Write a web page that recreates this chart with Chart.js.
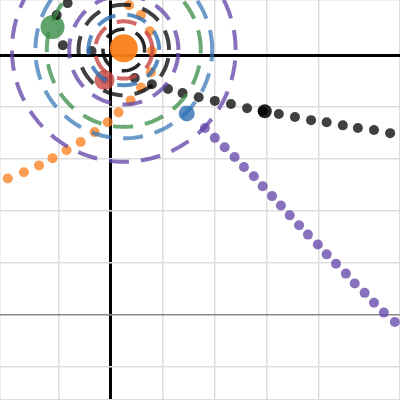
<!DOCTYPE html>
<html><head>
<script src="https://cdn.jsdelivr.net/npm/chart.js@4"></script>
<style>html,body{margin:0;background:#fff}#c{width:400px;height:400px}</style>
</head><body>
<div id="c"><canvas id="chart"></canvas></div>
<script>
// axis window (grid units)
const X_RANGE = [-2.13, 5.56];
const Y_RANGE = [-6.63, 1.06];

// dashed circles: [cx, cy, r, colour, width]
const circles = [
  [0.25, 0.1, 2.15, "rgba(96,66,166,0.75)", 4],
  [0.25, 0.1, 1.70, "rgba(45,112,179,0.7)", 4],
  [0.25, 0.1, 1.48, "rgba(56,140,70,0.75)", 4],
  [0.25, 0.1, 1.05, "rgba(96,66,166,0.75)", 4],
  [0.25, 0.1, 0.87, "rgba(0,0,0,0.75)", 4],
  [0.25, 0.1, 0.68, "rgba(45,112,179,0.8)", 4],
  [0.25, 0.1, 0.55, "rgba(199,68,64,0.8)", 4],
  [0.25, 0.1, 0.40, "rgba(0,0,0,0.85)", 3.5]
];

// dotted trails
const blackX = [-0.83, -1.04, -0.92, -0.37, 0.46, 0.79, 1.10, 1.38, 1.69, 2.0, 2.31, 2.62, 2.92, 3.23, 3.54, 3.85, 4.15, 4.46, 4.75, 5.06, 5.37];
const blackY = [1.00, 0.77, 0.19, 0.08, -0.44, -0.56, -0.65, -0.73, -0.81, -0.88, -0.94, -1.02, -1.08, -1.13, -1.19, -1.25, -1.29, -1.35, -1.40, -1.44, -1.50];
const orangeX = [-1.98, -1.67, -1.38, -1.12, -0.85, -0.58, -0.31, -0.06, 0.15, 0.38, 0.58, 0.77, 0.79, 0.75, 0.58, 0.35];
const orangeY = [-2.37, -2.25, -2.12, -1.98, -1.83, -1.67, -1.48, -1.29, -1.10, -0.87, -0.62, -0.33, 0.08, 0.46, 0.77, 0.96];
const purpleX = [1.81, 2.0, 2.19, 2.38, 2.56, 2.75, 2.92, 3.10, 3.27, 3.44, 3.62, 3.79, 3.98, 4.15, 4.33, 4.52, 4.69, 4.88, 5.06, 5.25, 5.46];
const purpleY = [-1.40, -1.59, -1.77, -1.96, -2.15, -2.33, -2.52, -2.71, -2.89, -3.08, -3.27, -3.45, -3.64, -3.83, -4.01, -4.20, -4.39, -4.57, -4.76, -4.95, -5.13];

// big markers: [x, y, radius px, colour]
const markers = [
  [0.25, 0.13, 14, "rgba(250,126,25,0.95)"],
  [-1.12, 0.54, 12, "rgba(56,140,70,0.8)"],
  [-0.12, -0.48, 10, "rgba(199,68,64,0.8)"],
  [-0.12, -0.48, 4, "rgba(45,112,179,0.9)"],
  [1.46, -1.12, 8, "rgba(45,112,179,0.8)"],
  [2.96, -1.08, 7, "rgba(0,0,0,0.85)"]
];

const pts = (xs, ys) => xs.map((x, i) => ({ x, y: ys[i] }));
const datasets = [];
circles.forEach(([cx, cy, r, col, w]) => {
  const data = [];
  for (let a = 0; a <= 360; a += 4) {
    const t = a * Math.PI / 180;
    data.push({ x: cx + r * Math.cos(t), y: cy + r * Math.sin(t) });
  }
  datasets.push({ type: "line", data, borderColor: col, borderWidth: w,
    borderDash: [20, 12], pointRadius: 0, fill: false, tension: 0 });
});
datasets.push({ data: pts(blackX, blackY), backgroundColor: "rgba(0,0,0,0.75)", pointRadius: 5, borderWidth: 0 });
datasets.push({ data: pts(orangeX, orangeY), backgroundColor: "rgba(250,126,25,0.75)", pointRadius: 5, borderWidth: 0 });
datasets.push({ data: pts(purpleX, purpleY), backgroundColor: "rgba(96,66,166,0.75)", pointRadius: 5, borderWidth: 0 });
markers.forEach(([x, y, r, col]) => {
  datasets.push({ data: [{ x, y }], backgroundColor: col, pointRadius: r, borderWidth: 0 });
});

const gridColor = ctx => {
  const v = ctx.tick.value;
  if (Math.abs(v) < 1e-6) return "#000";
  if (Math.abs(Math.abs(v) - 5) < 1e-6) return "#888";
  return "#ddd";
};
const gridWidth = ctx => Math.abs(ctx.tick.value) < 1e-6 ? 3 : 1.5;

new Chart(document.getElementById("chart"), {
  type: "scatter",
  data: { datasets },
  options: {
    responsive: true, maintainAspectRatio: false, animation: false,
    layout: { padding: 0, autoPadding: false },
    plugins: { legend: { display: false }, tooltip: { enabled: false } },
    scales: {
      x: { min: X_RANGE[0], max: X_RANGE[1], border: { display: false },
        ticks: { display: false, stepSize: 1, padding: 0 },
        grid: { color: gridColor, lineWidth: gridWidth, drawTicks: false } },
      y: { min: Y_RANGE[0], max: Y_RANGE[1], border: { display: false },
        ticks: { display: false, stepSize: 1, padding: 0 },
        grid: { color: gridColor, lineWidth: gridWidth, drawTicks: false } }
    }
  }
});
</script>
</body></html>
